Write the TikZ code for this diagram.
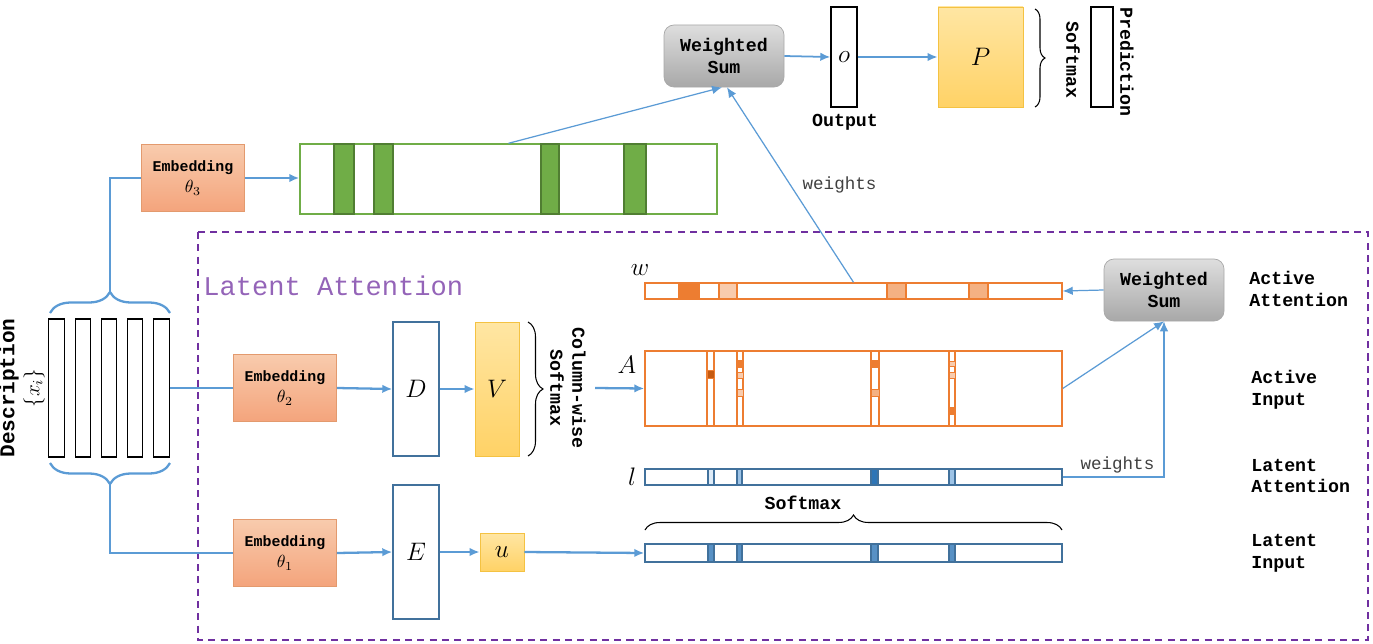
\documentclass[tikz,border=0pt]{standalone}
\usepackage{fontspec}
\setmonofont{Liberation Mono}
\usetikzlibrary{arrows.meta,positioning,calc,decorations.pathreplacing}
\definecolor{LinkBlue}{HTML}{5B9BD5}
\definecolor{BoxBlue}{HTML}{41719C}
\definecolor{EmbTop}{HTML}{F8CBAD}
\definecolor{EmbBot}{HTML}{F4A47C}
\definecolor{EmbLine}{HTML}{E39A6E}
\definecolor{YelTop}{HTML}{FFE6A3}
\definecolor{YelBot}{HTML}{FFD266}
\definecolor{YelLine}{HTML}{F4C242}
\definecolor{GrayTop}{HTML}{DEDEDE}
\definecolor{GrayBot}{HTML}{A8A8A8}
\definecolor{Leaf}{HTML}{70AD47}
\definecolor{LeafDark}{HTML}{507E32}
\definecolor{Amber}{HTML}{ED7D31}
\definecolor{AmberDark}{HTML}{C55A11}
\definecolor{AmberMid}{HTML}{F4B183}
\definecolor{AmberLight}{HTML}{F8CBAD}
\definecolor{SkyDark}{HTML}{2E75B6}
\definecolor{SkyMid}{HTML}{9DC3E6}
\definecolor{SkyLight}{HTML}{DEEBF7}
\definecolor{Plum}{HTML}{7030A0}
\tikzset{
  emb/.style={draw=EmbLine, top color=EmbTop, bottom color=EmbBot, minimum width=20.6mm, minimum height=13.4mm,
    align=center, inner sep=0pt, font=\ttfamily\bfseries\fontsize{8.5}{12}\selectfont},
  wsumbox/.style={draw=GrayBot, top color=GrayTop, bottom color=GrayBot, rounded corners=2mm, minimum width=24mm,
    minimum height=12.4mm, align=center, inner sep=0pt, font=\ttfamily\bfseries\fontsize{10.4}{12.5}\selectfont},
  yelbox/.style={draw=YelLine, top color=YelTop, bottom color=YelBot, inner sep=0pt, font=\Large},
  matbox/.style={draw=BoxBlue, fill=white, line width=0.8pt, inner sep=0pt, font=\Large},
  blackbox/.style={draw=black, fill=white, line width=0.8pt, inner sep=0pt, font=\Large},
  vecbox/.style={fill=white, line width=0.8pt, inner sep=0pt, minimum width=83.4mm},
  lbl/.style={font=\ttfamily\bfseries\fontsize{10.4}{12.5}\selectfont, align=left, inner sep=0pt},
  wlbl/.style={font=\ttfamily\fontsize{10}{12}\selectfont, text=black!75, inner sep=1pt},
  link/.style={LinkBlue, line width=1.3pt, -{Latex[length=2mm,width=1.7mm]}},
  thinlink/.style={LinkBlue, line width=0.7pt, -{Latex[length=2mm,width=1.7mm]}},
  bluebrace/.style={LinkBlue, line width=1.3pt, decorate, decoration={brace, amplitude=4.2mm}},
  blackbrace/.style={black, line width=0.6pt, decorate, decoration={brace, amplitude=#1}},
}

\begin{document}
\begin{tikzpicture}[x=0.2mm, y=-0.2mm]
  \useasboundingbox (0,0) rectangle (1373,643);
  % latent attention frame
  \draw[Plum, line width=0.8pt, dash pattern=on 4pt off 3pt] (198,232) rectangle (1368,640);
  \node[anchor=west, inner sep=0pt, text=Plum!75, font=\ttfamily\fontsize{15.4}{18}\selectfont] (latlbl) at (203,286) {Latent Attention};

  % description input
  \foreach \i/\cx in {1/56.5,2/83,3/109,4/135,5/161.5}
    \node[draw=black, line width=0.8pt, minimum width=3.1mm, minimum height=27.6mm, inner sep=0pt] (desc\i) at (\cx,388) {};
  \node[rotate=90, font=\ttfamily\bfseries\fontsize{12}{14}\selectfont] (desclbl) at (9,388) {Description};
  \node[rotate=90, font=\large] (xilbl) at (34,388) {$\{x_i\}$};
  \draw[bluebrace] (50,313) -- (170,313);
  \draw[bluebrace] (170,463) -- (50,463);
  \coordinate (btop) at (110,292);
  \coordinate (bbot) at (110,485);

  % embeddings
  \node[emb] (emb3) at (193,178) {Embedding\\{\normalsize$\theta_3$}};
  \node[emb] (emb2) at (285,388) {Embedding\\{\normalsize$\theta_2$}};
  \node[emb] (emb1) at (285,553) {Embedding\\{\normalsize$\theta_1$}};

  % memory vector
  \node[draw=Leaf, fill=white, line width=0.8pt, minimum width=83.4mm, minimum height=14mm, inner sep=0pt] (mem) at (508.5,179) {};
  \foreach \xa/\xb in {334/354,374/393,541/559,624/646}
    \draw[LeafDark, fill=Leaf, line width=0.6pt] (\xa,144) rectangle (\xb,214);

  % top row
  \node[wsumbox] (wsum) at (724,56) {Weighted\\Sum};
  \node[blackbox, minimum width=5.2mm, minimum height=20mm] (outv) at (844,57) {$o$};
  \node[lbl] (outlbl) at (845,122) {Output};
  \node[yelbox, minimum width=17mm, minimum height=20mm] (pmat) at (980.5,57) {$P$};
  \draw[blackbrace=2mm] (1035,9) -- (1035,107);
  \node[lbl, rotate=-90] (smtop) at (1073,60) {Softmax};
  \node[blackbox, minimum width=4.4mm, minimum height=20mm] (pred) at (1102,57) {};
  \node[lbl, rotate=-90] (predlbl) at (1127,62) {Prediction};

  % middle rows
  \node[matbox, minimum width=9.2mm, minimum height=26.8mm] (dmat) at (416,389) {$D$};
  \node[yelbox, minimum width=8.8mm, minimum height=26.8mm] (vmat) at (497,389) {$V$};
  \draw[blackbrace=3mm] (528,322) -- (528,456);
  \node[lbl, rotate=-90, align=center] (cwlbl) at (568,388) {Column-wise\\Softmax};
  \coordinate (cwout) at (595,388);
  \node[matbox, minimum width=9.2mm, minimum height=26.8mm] (emat) at (416,552) {$E$};
  \node[yelbox, minimum width=8.8mm, minimum height=7.6mm] (uvec) at (502,552) {$u$};

  % attention vectors
  \node[vecbox, draw=Amber, minimum height=3.2mm] (wvec) at (853.5,291) {};
  \node[vecbox, draw=Amber, minimum height=15mm] (amat) at (853.5,388.5) {};
  \node[vecbox, draw=BoxBlue, minimum height=3.2mm] (lvec) at (853.5,477) {};
  \node[vecbox, draw=BoxBlue, minimum height=3.6mm] (lin) at (853.5,553) {};
  \node[font=\Large] (wlab) at (640,270) {$w$};
  \node[font=\Large] (alab) at (627,365) {$A$};
  \node[font=\Large] (llab) at (632,477) {$l$};
  \foreach \xa/\xb/\col in {679/699/Amber,719/737/AmberLight,887/906/AmberMid,969/988/AmberMid}
    \draw[Amber, fill=\col, line width=0.6pt] (\xa,283) rectangle (\xb,299);
  \foreach \xa/\xb in {707/714,737/743,871/879,949/955}
    \draw[Amber, fill=white, line width=0.6pt] (\xa,351) rectangle (\xb,426);
  \foreach \xa/\xb/\ya/\yb/\col in {707/714/370/378/AmberDark,737/743/360/367/Amber,737/743/372/378/AmberLight,
      737/743/389/396/AmberLight,871/879/360/367/Amber,871/879/389/396/AmberMid,949/955/361/366/AmberLight,
      949/955/372/378/AmberLight,949/955/407/414/Amber}
    \draw[Amber, fill=\col, line width=0.5pt] (\xa,\ya) rectangle (\xb,\yb);
  \foreach \xa/\xb/\col in {708/714/SkyLight,737/742/SkyMid,871/878/SkyDark,949/955/SkyMid}
    \draw[BoxBlue, fill=\col, line width=0.6pt] (\xa,469) rectangle (\xb,485);
  \foreach \xa/\xb in {708/714,737/742,871/878,949/955}
    \draw[BoxBlue, fill=SkyDark!80, line width=0.6pt] (\xa,544) rectangle (\xb,562);
  \draw[blackbrace=3mm] (645,530) -- (1062,530);
  \node[lbl] (smlow) at (803,503) {Softmax};

  % right side
  \node[wsumbox] (wsum2) at (1164,290) {Weighted\\Sum};
  \node[lbl, anchor=west] (aalbl) at (1249,289) {Active\\Attention};
  \node[lbl, anchor=west] (ailbl) at (1251,390) {Active\\Input};
  \node[lbl, anchor=west] (lalbl) at (1251,476) {Latent\\Attention};
  \node[lbl, anchor=west] (lilbl) at (1251,553) {Latent\\Input};

  % connectors
  \draw[LinkBlue, line width=1.3pt] (btop) |- (emb3.west);
  \draw[LinkBlue, line width=1.3pt] (bbot) |- (emb1.west);
  \draw[LinkBlue, line width=1.3pt] (desc5.east) -- (emb2.west);
  \draw[link] (emb3.east) -- (emb3.east -| mem.west);
  \draw[link] (emb2.east) -- (dmat.west);
  \draw[link] (dmat.east) -- (vmat.west);
  \draw[link] (cwout) -- (amat.west);
  \draw[link] (emb1.east) -- (emat.west);
  \draw[link] (emat.east) -- (uvec.west);
  \draw[link] (uvec.east) -- (lin.west);
  \draw[thinlink] (mem.north) -- ($(wsum.south)+(-2,0)$);
  \draw[thinlink] (wvec.north) -- node[wlbl, pos=0.5, anchor=west, xshift=2mm] (wtop) {weights} ($(wsum.south)+(3,0)$);
  \draw[thinlink, line width=1pt] (wsum.east) -- (outv.west);
  \draw[link] (outv.east) -- (pmat.west);
  \draw[thinlink] (wsum2.west) -- (wvec.east);
  \draw[thinlink] (amat.east) -- (wsum2.south);
  \draw[thinlink] (lvec.east) -| node[wlbl, pos=0.27, above=1pt] (wbot) {weights} (wsum2.south);
\end{tikzpicture}
\end{document}
